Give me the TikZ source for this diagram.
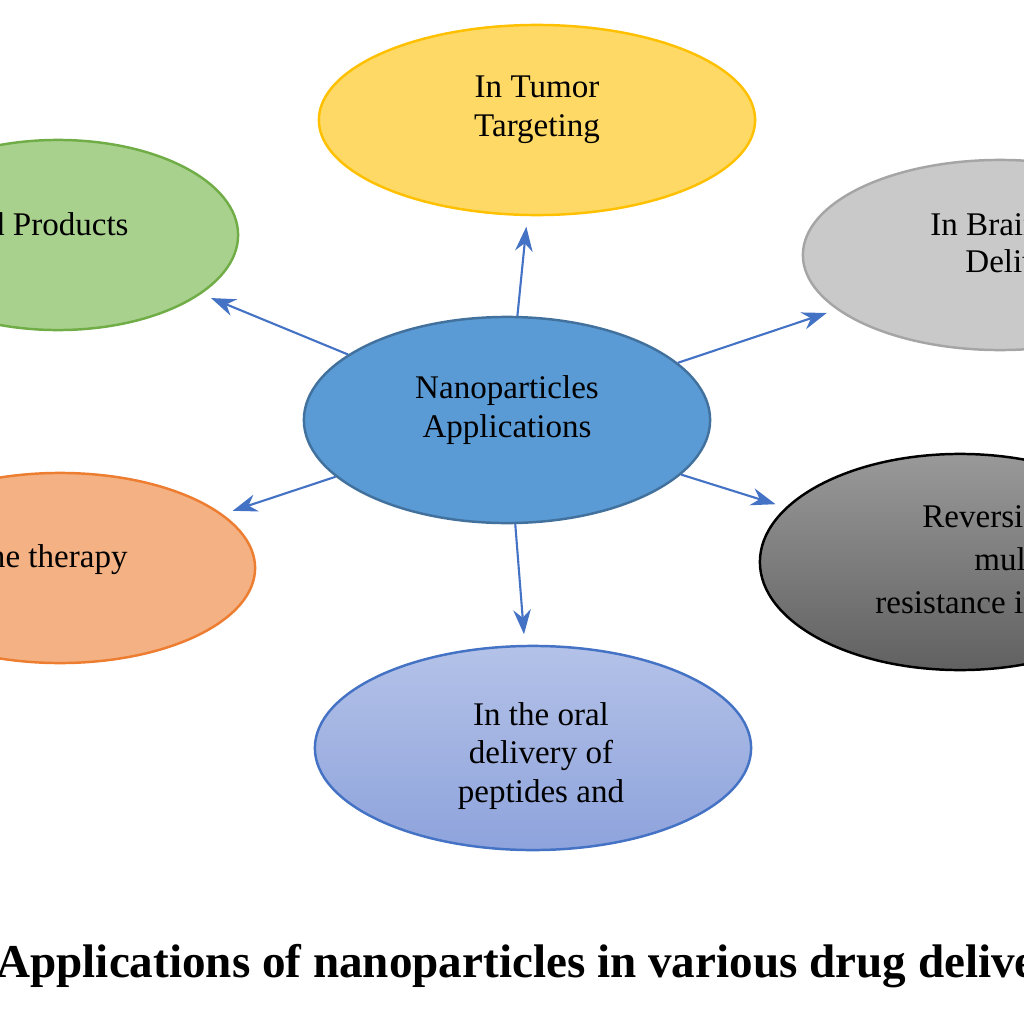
\documentclass[tikz,border=0pt]{standalone}
\usepackage{fontspec}
\setmainfont{Liberation Serif}
\usetikzlibrary{shapes.geometric,arrows.meta}
\definecolor{arrowblue}{HTML}{4472C4}
\definecolor{npfill}{RGB}{91,155,213}
\definecolor{npdraw}{RGB}{65,113,156}
\definecolor{tumorfill}{RGB}{255,217,102}
\definecolor{tumordraw}{RGB}{255,192,0}
\definecolor{foodfill}{RGB}{169,209,142}
\definecolor{fooddraw}{RGB}{112,173,71}
\definecolor{brainfill}{RGB}{201,201,201}
\definecolor{braindraw}{RGB}{165,165,165}
\definecolor{genefill}{RGB}{244,177,131}
\definecolor{genedraw}{RGB}{237,125,49}
\definecolor{oraltop}{RGB}{180,194,232}
\definecolor{oralbot}{RGB}{142,163,220}

\begin{document}
\begin{tikzpicture}[x=0.01cm,y=-0.01cm,>={Stealth[length=7pt,width=5pt]},
    blob/.style={ellipse,line width=0.7pt,inner sep=0pt},
    lbl/.style={font=\fontsize{9.4pt}{11pt}\selectfont,align=center},
    link/.style={->,arrowblue,line width=0.6pt,shorten >=3pt}]
  \useasboundingbox (0,0) rectangle (1024,1024);
  \clip (0,0) rectangle (1024,1024);

  \node[blob,minimum width=4.06cm,minimum height=2.06cm,fill=npfill,draw=npdraw] (np) at (507,420) {};
  \node[blob,minimum width=4.36cm,minimum height=1.9cm,fill=tumorfill,draw=tumordraw] (tumor) at (537,120) {};
  \node[blob,minimum width=3.6cm,minimum height=1.9cm,fill=foodfill,draw=fooddraw] (food) at (58,235) {};
  \node[blob,minimum width=3.94cm,minimum height=1.9cm,fill=brainfill,draw=braindraw] (brain) at (1000,255) {};
  \node[blob,minimum width=3.9cm,minimum height=1.9cm,fill=genefill,draw=genedraw] (gene) at (60,568) {};
  \node[blob,minimum width=4cm,minimum height=2.16cm,top color=black!40,bottom color=black!62,draw=black] (mdr) at (960,562) {};
  \node[blob,minimum width=4.36cm,minimum height=2.04cm,top color=oraltop,bottom color=oralbot,draw=arrowblue] (oral) at (533,748) {};

  % labels
  \node[lbl] at (507,410) {Nanoparticles\\Applications};
  \node[lbl] at (537,110) {In Tumor\\Targeting};
  \node[lbl,anchor=base east] at (141,235) {Food Products};
  \node[lbl,anchor=base west] at (918,235) {In Brain Drug};
  \node[lbl,anchor=base west] at (953,272) {Delivery};
  \node[lbl,anchor=base east] at (140,567) {Gene therapy};
  \node[lbl,anchor=base west] at (910,527) {Reversing};
  \node[lbl,anchor=base west] at (962,570) {multidrug};
  \node[lbl,anchor=base west] at (863,613) {resistance in};
  \node[lbl] at (541,756) {In the oral\\delivery of\\peptides and};

  \draw[link] (np) -- (tumor);
  \draw[link] (np) -- (food);
  \draw[link] (np) -- (brain);
  \draw[link] (np) -- (gene);
  \draw[link] (np) -- (mdr);
  \draw[link] (np) -- (oral);

  \node[font=\fontsize{13.4pt}{15pt}\selectfont\bfseries,anchor=base west] (cap) at (-16,977)
    {Applications of nanoparticles in various drug delivery};
\end{tikzpicture}
\end{document}
